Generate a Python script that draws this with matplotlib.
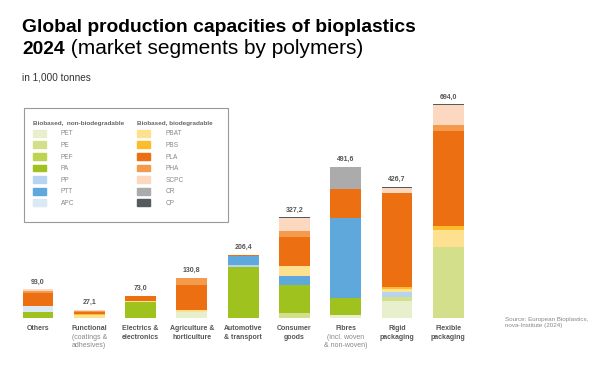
import matplotlib
matplotlib.use("Agg")
import matplotlib.pyplot as plt
from matplotlib.patches import Patch, Rectangle
import numpy as np

plt.rcParams["font.family"] = ["Liberation Sans", "DejaVu Sans"]

# market segments (bottom labels)
segments = ["Others", "Functional", "Electrics &", "Agriculture &", "Automotive",
            "Consumer", "Fibres", "Rigid", "Flexible"]
segments2 = ["", "(coatings &\nadhesives)", "electronics", "horticulture", "& transport",
             "goods", "(incl. woven\n& non-woven)", "packaging", "packaging"]
second_bold = [False, False, True, True, True, True, False, True, True]
totals = ["93,0", "27,1", "73,0", "130,8", "206,4", "327,2", "491,6", "426,7", "694,0"]

polymers = ["PET", "PE", "PEF", "PA", "PP", "PTT", "APC",
            "PBAT", "PBS", "PLA", "PHA", "SCPC", "CR", "CP"]
colors = ["#e8efcd", "#d3df8a", "#bdd450", "#9fc21e", "#b6d4ef", "#5fa8dc", "#dbe9f5",
          "#fde190", "#fbbd2c", "#ec7012", "#f39a4c", "#fbd8bf", "#ababab", "#555a5c"]

# values per polymer, in 1,000 tonnes, one per segment
PET  = [0, 0, 0, 20, 0, 0, 11, 56, 0]
PE   = [0, 0, 0, 0, 0, 16, 0, 13.4, 230]
PEF  = [0, 0, 0, 0, 0, 0, 0, 0, 0]
PA   = [19, 0, 52.8, 0, 164.4, 90.6, 54, 0, 0]
PP   = [0, 0, 0, 0, 8, 0, 0, 14.5, 0]
PTT  = [0, 0, 0, 0, 28, 28.8, 260, 0, 0]
APC  = [19.7, 0, 0, 0, 0, 0, 0, 0, 0]
PBAT = [0, 9, 3.2, 7, 0, 35.2, 0, 11, 57.5]
PBS  = [0, 3, 0, 0, 0, 0, 0, 5.6, 13]
PLA  = [42, 6, 17, 79.8, 6, 92.7, 95, 307, 307]
PHA  = [6.7, 5, 0, 24, 0, 19.2, 0, 0, 21.7]
SCPC = [5.6, 4.1, 0, 0, 0, 42.6, 0, 15.6, 61.8]
CR   = [0, 0, 0, 0, 0, 0, 71.6, 0, 0]
CP   = [0, 0, 0, 0, 0, 2.1, 0, 3.4, 3.3]

data = [PET, PE, PEF, PA, PP, PTT, APC, PBAT, PBS, PLA, PHA, SCPC, CR, CP]

fig = plt.figure(figsize=(6, 3.65), dpi=100)
ax = fig.add_axes([0.0207, 0.1288, 0.769, 0.674])

x = np.arange(len(segments))
bottom = np.zeros(len(segments))
for name, vals, c in zip(polymers, data, colors):
    ax.bar(x, vals, 0.6, bottom=bottom, color=c, linewidth=0)
    bottom += np.array(vals)

for i in range(len(segments)):
    ax.text(x[i], bottom[i] + 12, totals[i], ha="center", va="bottom",
            fontsize=5, color="#555555", fontweight="bold")
    ax.text(x[i], -22, segments[i], ha="center", va="top", fontsize=5,
            color="#555555", fontweight="bold", linespacing=1.3)
    if segments2[i]:
        ax.text(x[i], -52, segments2[i], ha="center", va="top", fontsize=5,
                color="#555555" if second_bold[i] else "#888888",
                fontweight="bold" if second_bold[i] else "normal", linespacing=1.3)

ax.set_xlim(-0.5, 8.5)
ax.set_ylim(0, 800)
ax.axis("off")

# title
fig.text(0.037, 0.912, "Global production capacities of bioplastics", fontsize=13.9,
         fontweight="bold", color="black", va="baseline")
t = fig.text(0.037, 0.852, "2024", fontsize=13.9, fontweight="bold", color="black",
             va="baseline")
ax.annotate(" (market segments by polymers)", xy=(1, 0), xycoords=t, fontsize=15,
            va="bottom", ha="left", color="black", annotation_clip=False)
fig.text(0.037, 0.78, "in 1,000 tonnes", fontsize=7.2, color="#333333", va="baseline")

fig.text(0.842, 0.1, "Source: European Bioplastics,\nnova-Institute (2024)",
         fontsize=4.5, color="#888888", va="bottom", linespacing=1.4)

# legend: grey box with two titled columns
fig.add_artist(Rectangle((0.04, 0.392), 0.34, 0.312, transform=fig.transFigure,
                         facecolor="white", edgecolor="#999999", linewidth=0.8))
groups = [("Biobased,  non-biodegradable", 0, 7, 0.045),
          ("Biobased, biodegradable", 7, 14, 0.219)]
for title, a, b, xpos in groups:
    leg = fig.legend([Patch(color=c) for c in colors[a:b]], polymers[a:b],
                     loc="upper left", bbox_to_anchor=(xpos, 0.685), fontsize=4.7,
                     title=title, alignment="left", frameon=False,
                     handlelength=2.0, handleheight=1.2, labelspacing=0.62,
                     handletextpad=2.3, borderpad=0.4)
    leg.get_title().set_fontsize(4.6)
    leg.get_title().set_fontweight("bold")
    leg.get_title().set_color("#666666")
    for txt in leg.get_texts():
        txt.set_color("#888888")

fig.savefig("out.png", dpi=100)
